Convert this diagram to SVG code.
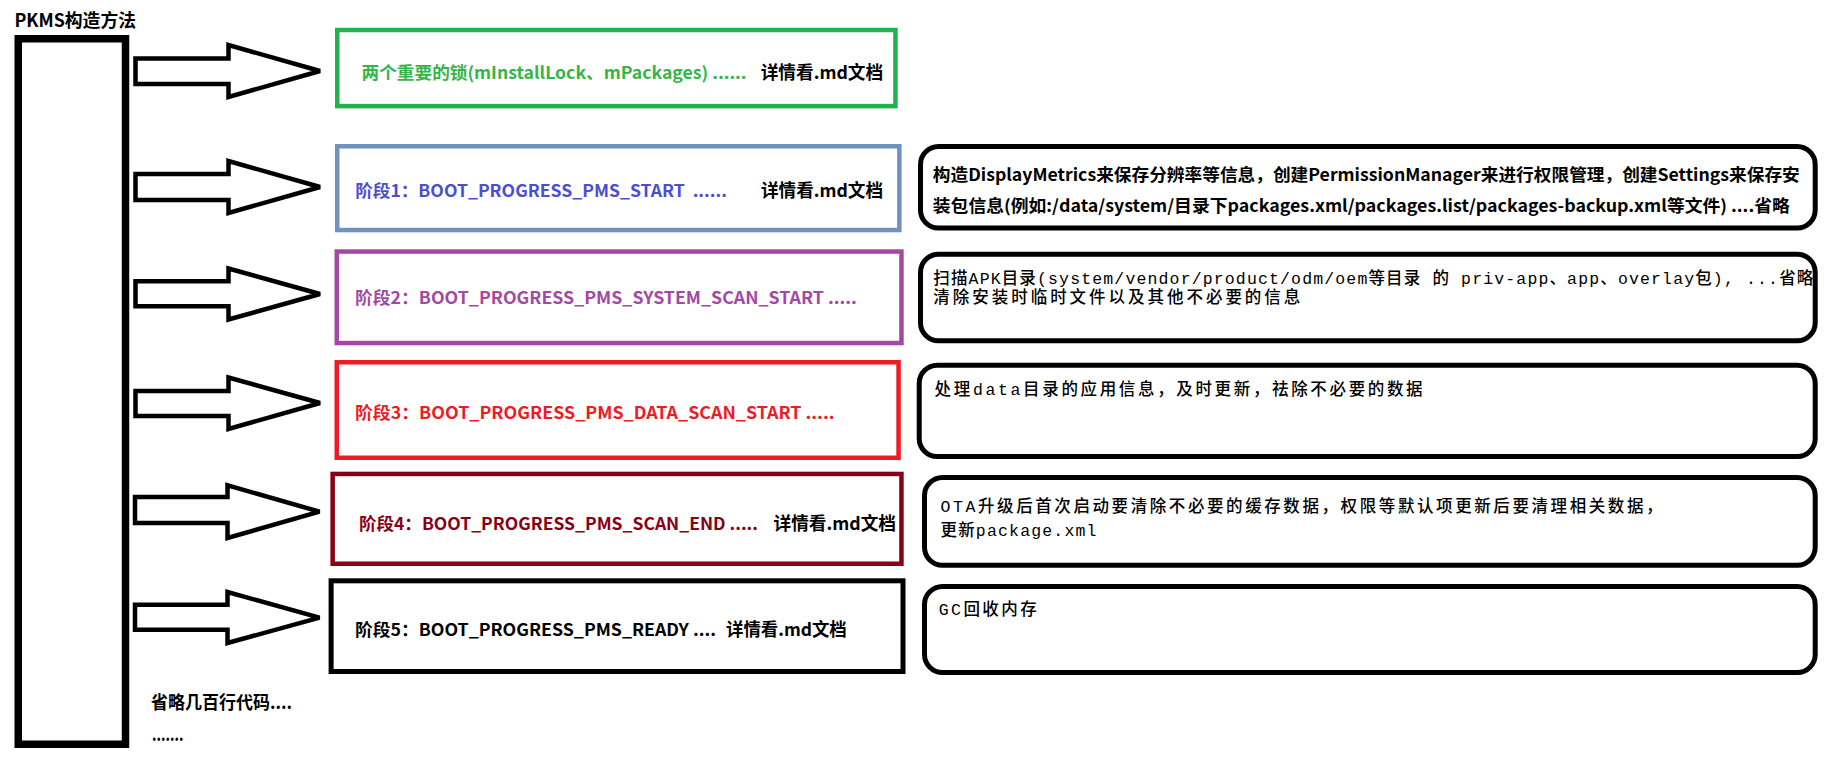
<svg xmlns="http://www.w3.org/2000/svg" width="1833" height="758" viewBox="0 0 1833 758">
<style>
.bg{fill:#fff}
.lbox{fill:#fff;stroke-width:4.5}
.rbox{fill:#fff;stroke:#000;stroke-width:5}
.arrow{fill:#fff;stroke:#000;stroke-width:4.5;stroke-linejoin:miter;stroke-miterlimit:2}
.b{font-family:"Noto Sans CJK SC","Noto Sans",sans-serif;font-weight:bold;font-size:17px}
.md{font-family:"Noto Sans CJK SC","Noto Sans",sans-serif;font-weight:bold;font-size:18px;fill:#000}
.s{font-family:"Liberation Mono","Noto Sans CJK SC",monospace;font-size:16.5px;font-weight:500;fill:#000}
</style>
<rect class="bg" x="0" y="0" width="1833" height="758"/>
<g id="title">
<text class="md" x="14.5" y="27.3" textLength="121.5" lengthAdjust="spacingAndGlyphs">PKMS构造方法</text>
</g>
<g id="pkms">
<rect x="18.25" y="38.75" width="107.25" height="705.5" fill="#fff" stroke="#000" stroke-width="7.5"/>
<text class="md" x="151" y="709" textLength="141" lengthAdjust="spacingAndGlyphs">省略几百行代码....</text>
<text class="md" x="152" y="740.7" textLength="31.5" lengthAdjust="spacingAndGlyphs">.......</text>
</g>
<g id="connectors">
<polygon class="arrow" points="135.5,58.5 228.5,58.5 228.5,45 320,71 228.5,97 228.5,84 135.5,84"/>
<polygon class="arrow" points="135.5,174 228.5,174 228.5,161 320,187 228.5,213 228.5,200 135.5,200"/>
<polygon class="arrow" points="135.5,281.3 228.5,281.3 228.5,268.5 320,294 228.5,319.5 228.5,306.3 135.5,306.3"/>
<polygon class="arrow" points="135.5,391 228.5,391 228.5,377.5 320,403 228.5,429 228.5,416 135.5,416"/>
<polygon class="arrow" points="135,497 227.5,497 227.5,485.3 319.5,511.7 227.5,538 227.5,523 135,523"/>
<polygon class="arrow" points="135,604.7 227.5,604.7 227.5,592 319.5,617.7 227.5,643 227.5,629.7 135,629.7"/>
</g>
<g id="locks">
<rect class="lbox" x="337.25" y="30" width="558.2" height="76.1" stroke="#22B14C"/>
<text class="b" x="361.6" y="79" fill="#35B548" textLength="385" lengthAdjust="spacingAndGlyphs">两个重要的锁(mInstallLock、mPackages) ......</text>
<text class="md" x="760.7" y="79" textLength="122.5" lengthAdjust="spacingAndGlyphs">详情看.md文档</text>
</g>
<g id="stage1">
<rect class="lbox" x="337.25" y="146.25" width="562.1" height="83.8" stroke="#7092BE"/>
<text class="b" x="355.2" y="196.7" fill="#4A4FD0" textLength="371.8" lengthAdjust="spacingAndGlyphs" xml:space="preserve">阶段1：BOOT_PROGRESS_PMS_START  ......</text>
<text class="md" x="761" y="196.7" textLength="122" lengthAdjust="spacingAndGlyphs">详情看.md文档</text>
</g>
<g id="stage2">
<rect class="lbox" x="336.75" y="251.55" width="564.7" height="91.5" stroke="#A349A4"/>
<text class="b" x="355" y="304" fill="#A349A4" textLength="501.8" lengthAdjust="spacingAndGlyphs">阶段2：BOOT_PROGRESS_PMS_SYSTEM_SCAN_START .....</text>
</g>
<g id="stage3">
<rect class="lbox" x="336.75" y="362.25" width="561.8" height="95.5" stroke="#ED1C24"/>
<text class="b" x="355" y="419.3" fill="#ED1C24" textLength="479.5" lengthAdjust="spacingAndGlyphs">阶段3：BOOT_PROGRESS_PMS_DATA_SCAN_START .....</text>
</g>
<g id="stage4">
<rect class="lbox" x="332.65" y="473.95" width="568.8" height="89.8" stroke="#880015"/>
<text class="b" x="359" y="530" fill="#880015" textLength="399" lengthAdjust="spacingAndGlyphs">阶段4：BOOT_PROGRESS_PMS_SCAN_END .....</text>
<text class="md" x="773.5" y="530" textLength="122.5" lengthAdjust="spacingAndGlyphs">详情看.md文档</text>
</g>
<g id="stage5">
<rect x="331.1" y="580.8" width="571.9" height="90.7" fill="#fff" stroke="#000" stroke-width="5"/>
<text class="b" x="355" y="635.7" fill="#000" textLength="361" lengthAdjust="spacingAndGlyphs">阶段5：BOOT_PROGRESS_PMS_READY ....</text>
<text class="md" x="726" y="635.7" textLength="120.8" lengthAdjust="spacingAndGlyphs">详情看.md文档</text>
</g>
<g id="note1">
<rect class="rbox" x="920.5" y="146.5" width="894.7" height="81.5" rx="18"/>
<text class="b" x="932.8" y="180.7" fill="#000" textLength="867" lengthAdjust="spacingAndGlyphs">构造DisplayMetrics来保存分辨率等信息，创建PermissionManager来进行权限管理，创建Settings来保存安</text>
<text class="b" x="932.8" y="211.7" fill="#000" textLength="857" lengthAdjust="spacingAndGlyphs">装包信息(例如:/data/system/目录下packages.xml/packages.list/packages-backup.xml等文件) ....省略</text>
</g>
<g id="note2">
<rect class="rbox" x="920.5" y="254.2" width="894.7" height="86.6" rx="18"/>
<text class="s" x="933.3" y="284.3" textLength="880">扫描APK目录(system/vendor/product/odm/oem等目录 的 priv-app、app、overlay包), ...省略</text>
<text class="s" x="933.3" y="303.3" textLength="367">清除安装时临时文件以及其他不必要的信息</text>
</g>
<g id="note3">
<rect class="rbox" x="919.2" y="365.2" width="896" height="91.3" rx="18"/>
<text class="s" x="934.6" y="395" textLength="488">处理data目录的应用信息，及时更新，祛除不必要的数据</text>
</g>
<g id="note4">
<rect class="rbox" x="924.5" y="477.5" width="890.7" height="87.7" rx="18"/>
<text class="s" x="940.5" y="511.7" textLength="722">OTA升级后首次启动要清除不必要的缓存数据，权限等默认项更新后要清理相关数据，</text>
<text class="s" x="940.5" y="536" textLength="156">更新package.xml</text>
</g>
<g id="note5">
<rect class="rbox" x="924.5" y="586.5" width="890.7" height="86" rx="18"/>
<text class="s" x="938.7" y="615" textLength="98">GC回收内存</text>
</g>
</svg>
